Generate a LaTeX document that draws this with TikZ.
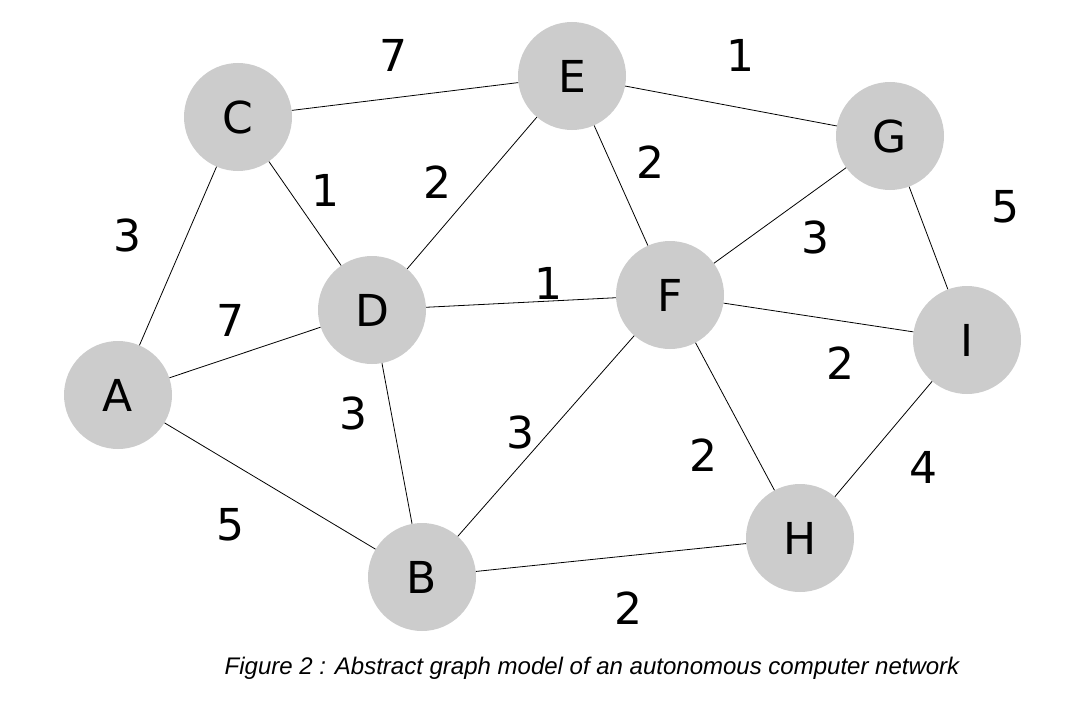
\documentclass[tikz,border=0pt]{standalone}
\usepackage{fontspec}
\setmainfont{DejaVu Sans}
\newfontfamily\capfont{Liberation Sans}
\begin{document}
\begin{tikzpicture}[x=1pt,y=-1pt,
  vtx/.style={circle,fill=gray!40!white,minimum size=108pt,inner sep=0pt,font=\fontsize{44}{44}\selectfont},
  wt/.style={font=\fontsize{44}{44}\selectfont},
  edge/.style={draw=black,line width=0.8pt}]
\useasboundingbox (0,0) rectangle (1087,717);
\fill[white] (0,0) rectangle (1087,717);
\node[vtx] (A) at (118,395) {A};
\node[vtx] (C) at (238,117) {C};
\node[vtx] (E) at (572,76) {E};
\node[vtx] (G) at (890,136) {G};
\node[vtx] (D) at (372,310) {D};
\node[vtx] (F) at (670,295) {F};
\node[vtx] (I) at (967,340) {I};
\node[vtx] (B) at (422,577) {B};
\node[vtx] (H) at (800,538) {H};
\foreach \a/\b in {A/C,A/D,A/B,C/E,C/D,E/D,E/G,E/F,D/F,D/B,G/F,G/I,F/I,F/B,F/H,I/H,B/H}
  \draw[edge] (\a) -- (\b);
\foreach \n/\p/\t in {w1/{(393,55)}/7,w2/{(740,55)}/1,w3/{(650,162)}/2,w4/{(1005,207)}/5,w5/{(127,235)}/3,w6/{(325,190)}/1,w7/{(437,182)}/2,w8/{(230,320)}/7,w9/{(548,283)}/1,w10/{(815,237)}/3,w11/{(840,363)}/2,w12/{(353,413)}/3,w13/{(520,432)}/3,w14/{(703,455)}/2,w15/{(923,467)}/4,w16/{(230,525)}/5,w17/{(628,608)}/2}
  \node[wt] (\n) at \p {\t};
\node[font=\capfont\itshape\fontsize{24}{24}\selectfont] (cap) at (592,668) {Figure 2 : Abstract graph model of an autonomous computer network};
\end{tikzpicture}
\end{document}
